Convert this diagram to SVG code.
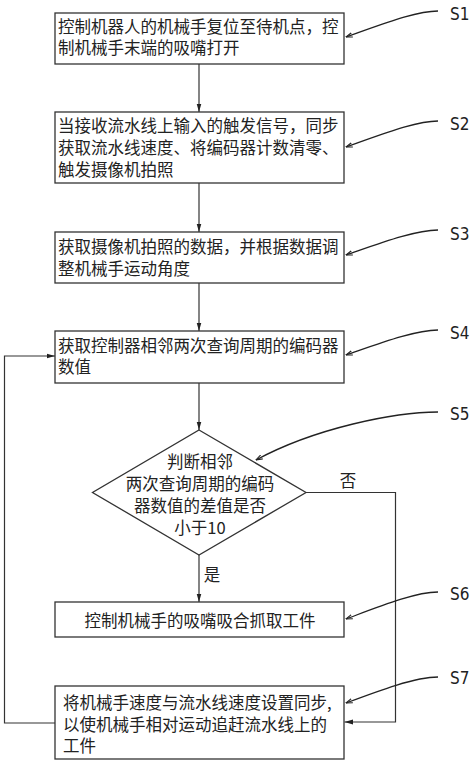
<svg xmlns="http://www.w3.org/2000/svg" width="474" height="764" viewBox="0 0 474 764">
<defs>
<style>
.box{fill:#fff;stroke:#333;stroke-width:1.3}
.t{font-family:"Noto Sans CJK SC","Noto Sans",sans-serif;font-size:16.5px;fill:#222}
.c{text-anchor:middle}
.lbl{font-family:"DejaVu Sans Condensed","DejaVu Sans","Liberation Sans",sans-serif;font-size:17px;fill:#222}
.ln{fill:none;stroke:#333;stroke-width:1.2}
.ld{fill:none;stroke:#222;stroke-width:1.3}
</style>
<marker id="ah" markerWidth="9" markerHeight="6" refX="8.5" refY="3" orient="auto" markerUnits="userSpaceOnUse">
<path d="M0,0.6 L8.5,3 L0,5.4 Z" fill="#222"/>
</marker>
<marker id="lh" markerWidth="7" markerHeight="6" refX="6.5" refY="3" orient="auto" markerUnits="userSpaceOnUse">
<path d="M0,0.8 L6.5,3 L0,5.2" fill="none" stroke="#222" stroke-width="1.1"/>
</marker>
</defs>
<rect width="474" height="764" fill="#fff"/>
<g id="connectors">
<line class="ln" x1="199" y1="64" x2="199" y2="112" marker-end="url(#ah)"/>
<line class="ln" x1="199" y1="183" x2="199" y2="232" marker-end="url(#ah)"/>
<line class="ln" x1="199" y1="283" x2="199" y2="331" marker-end="url(#ah)"/>
<line class="ln" x1="199" y1="383" x2="199" y2="430" marker-end="url(#ah)"/>
<line class="ln" x1="199" y1="555" x2="199" y2="602" marker-end="url(#ah)"/>
<polyline class="ln" points="306,492.5 395.5,492.5 395.5,722 344.5,722" marker-end="url(#ah)"/>
<polyline class="ln" points="55,723 4.5,723 4.5,356 55,356" marker-end="url(#ah)"/>
<text class="t c" x="348" y="487">否</text>
<text class="t c" x="212" y="581">是</text>
</g>
<g id="leaders">
<path class="ld" d="M438,11 C415,11 378,26 346,37" marker-end="url(#lh)"/>
<path class="ld" d="M438,121 C415,121 378,136 346,147" marker-end="url(#lh)"/>
<path class="ld" d="M438,230 C415,230 378,244 346,255" marker-end="url(#lh)"/>
<path class="ld" d="M438,330 C415,330 378,344 346,355" marker-end="url(#lh)"/>
<path class="ld" d="M438,412 C395,412 315,428 256,460" marker-end="url(#lh)"/>
<path class="ld" d="M438,592 C415,592 378,607 346,619" marker-end="url(#lh)"/>
<path class="ld" d="M438,677 C415,677 378,691 346,703" marker-end="url(#lh)"/>
<text class="lbl" x="450" y="20">S1</text>
<text class="lbl" x="450" y="129.5">S2</text>
<text class="lbl" x="450" y="239.5">S3</text>
<text class="lbl" x="450" y="338.5">S4</text>
<text class="lbl" x="450" y="419.5">S5</text>
<text class="lbl" x="450" y="599.5">S6</text>
<text class="lbl" x="450" y="683.5">S7</text>
</g>
<g id="s1">
<rect class="box" x="55" y="13" width="289" height="51"/>
<text class="t" x="58" y="33">控制机器人的机械手复位至待机点，控</text>
<text class="t" x="58" y="54">制机械手末端的吸嘴打开</text>
</g>
<g id="s2">
<rect class="box" x="55" y="112" width="289" height="71"/>
<text class="t" x="58" y="131.5">当接收流水线上输入的触发信号，同步</text>
<text class="t" x="58" y="153.5">获取流水线速度、将编码器计数清零、</text>
<text class="t" x="58" y="175.5">触发摄像机拍照</text>
</g>
<g id="s3">
<rect class="box" x="55" y="232" width="289" height="51"/>
<text class="t" x="58" y="253">获取摄像机拍照的数据，并根据数据调</text>
<text class="t" x="58" y="275">整机械手运动角度</text>
</g>
<g id="s4">
<rect class="box" x="55" y="331" width="289" height="52"/>
<text class="t" x="58" y="352">获取控制器相邻两次查询周期的编码器</text>
<text class="t" x="58" y="373">数值</text>
</g>
<g id="s5">
<polygon class="box" points="199,430 306,492.5 199,555 92.5,492.5"/>
<text class="t c" x="200" y="468">判断相邻</text>
<text class="t c" x="200" y="490">两次查询周期的编码</text>
<text class="t c" x="200" y="512">器数值的差值是否</text>
<text class="t c" x="200" y="534">小于10</text>
</g>
<g id="s6">
<rect class="box" x="55" y="602" width="289" height="35"/>
<text class="t c" x="200" y="627">控制机械手的吸嘴吸合抓取工件</text>
</g>
<g id="s7">
<rect class="box" x="55" y="686" width="289" height="73"/>
<text class="t" x="63" y="709">将机械手速度与流水线速度设置同步,</text>
<text class="t" x="63" y="731">以使机械手相对运动追赶流水线上的</text>
<text class="t" x="63" y="752">工件</text>
</g>
</svg>
